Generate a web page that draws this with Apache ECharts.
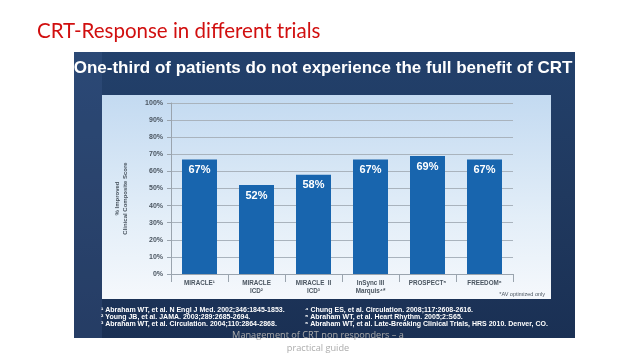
<!DOCTYPE html>
<html>
<head>
<meta charset="utf-8">
<script src="https://cdn.jsdelivr.net/npm/echarts@6/dist/echarts.min.js"></script>
<style>
html,body{margin:0;padding:0;background:#fff;}
#c{width:638px;height:359px;}
</style>
</head>
<body>
<div id="c"></div>
<script>
var categories = ['MIRACLE¹', 'MIRACLE\nICD²', 'MIRACLE  II\nICD³', 'InSync III\nMarquis⁴*', 'PROSPECT⁵', 'FREEDOM⁶'];
var values = [67, 52, 58, 67, 69, 67];
var yTicks = { min: 0, max: 100, step: 10, suffix: '%' };
var slideTitle = 'CRT-Response in different trials';
var boxTitle = 'One-third of patients do not experience the full benefit of CRT';
var yName = '% Improved\nClinical Composite Score';
var note = '*AV optimized only';
var refsLeft = ['¹ Abraham WT, et al. N Engl J Med. 2002;346:1845-1853.', '² Young JB, et al. JAMA. 2003;289:2685-2694.', '³ Abraham WT, et al. Circulation. 2004;110:2864-2868.'];
var refsRight = ['⁴ Chung ES, et al. Circulation. 2008;117:2608-2616.', '⁵ Abraham WT, et al. Heart Rhythm. 2005;2:S65.', '⁶ Abraham WT, et al. Late-Breaking Clinical Trials, HRS 2010. Denver, CO.'];
var footer = 'Management of CRT non responders – a\npractical guide';

var chart = echarts.init(document.getElementById('c'), null, {renderer: 'canvas'});
var refStyle = {fill: '#ffffff', font: 'bold 7px "Liberation Sans", Arial, sans-serif'};
var graphics = [
  {type: 'text', left: 37, top: 21, z: 10, style: {text: slideTitle, fill: '#d10f0f', font: '20.5px Lato, "Open Sans", sans-serif'}},
  {type: 'rect', shape: {x: 74, y: 52, width: 501, height: 286}, z: -20,
    style: {fill: new echarts.graphic.LinearGradient(0, 0, 0, 1, [{offset: 0, color: '#22406b'}, {offset: 0.5, color: '#20395f'}, {offset: 1, color: '#1a3054'}])}},
  {type: 'rect', shape: {x: 74, y: 52, width: 28, height: 286}, z: -19, style: {fill: 'rgba(70,100,150,0.25)'}},
  {type: 'text', x: 323, y: 68, z: 10, style: {text: boxTitle, fill: '#ffffff', font: 'bold 17px "Liberation Sans", Arial, sans-serif', textAlign: 'center', textVerticalAlign: 'middle'}},
  {type: 'rect', shape: {x: 102, y: 95, width: 449, height: 204}, z: -18,
    style: {fill: new echarts.graphic.LinearGradient(0, 0, 0, 1, [{offset: 0, color: '#c3daf1'}, {offset: 0.6, color: '#e3eef8'}, {offset: 1, color: '#f5f8fc'}])}},
  {type: 'text', x: 545, y: 294, z: 10, style: {text: note, fill: '#4a5560', font: '5.5px "Liberation Sans", Arial, sans-serif', textAlign: 'right', textVerticalAlign: 'middle'}},
  {type: 'text', x: 318, y: 342, z: 100, style: {text: footer, fill: '#ababab', font: '9.2px "Open Sans", sans-serif', textAlign: 'center', textVerticalAlign: 'middle', lineHeight: 13}}
];
refsLeft.forEach(function (t, i) {
  graphics.push({type: 'text', x: 101, y: 310 + i * 7, z: 10, style: Object.assign({text: t, textVerticalAlign: 'middle'}, refStyle)});
});
refsRight.forEach(function (t, i) {
  graphics.push({type: 'text', x: 305, y: 310 + i * 7, z: 10, style: Object.assign({text: t, textVerticalAlign: 'middle'}, refStyle)});
});

chart.setOption({
  animation: false,
  backgroundColor: '#ffffff',
  graphic: graphics,
  grid: {left: 171, right: 125, top: 103, bottom: 85, containLabel: false},
  xAxis: {
    type: 'category',
    data: categories,
    axisLine: {show: true, lineStyle: {color: '#9aa4ae', width: 1}},
    axisTick: {show: true, length: 8, lineStyle: {color: '#9aa4ae'}},
    axisLabel: {color: '#4a5560', fontSize: 6.3, fontWeight: 'bold', fontFamily: '"Liberation Sans", Arial, sans-serif', margin: 6, lineHeight: 7.5, interval: 0}
  },
  yAxis: {
    type: 'value',
    min: yTicks.min, max: yTicks.max, interval: yTicks.step,
    name: yName,
    nameLocation: 'middle',
    nameRotate: 90,
    nameGap: 42,
    nameTextStyle: {color: '#4a5560', fontSize: 6, fontWeight: 'bold', fontFamily: '"Liberation Sans", Arial, sans-serif', lineHeight: 8, padding: [0, 0, 0, -20]},
    axisLine: {show: true, lineStyle: {color: '#9aa4ae', width: 1}},
    axisTick: {show: true, length: 4, lineStyle: {color: '#9aa4ae'}},
    axisLabel: {formatter: '{value}' + yTicks.suffix, color: '#4a5560', fontSize: 7, fontWeight: 'bold', fontFamily: '"Liberation Sans", Arial, sans-serif', margin: 8},
    splitLine: {show: true, lineStyle: {color: '#a9b3bd', width: 1}}
  },
  series: [{
    type: 'bar',
    data: values,
    barWidth: 35,
    itemStyle: {color: '#1865ae'},
    label: {show: true, position: 'insideTop', distance: 5, formatter: '{c}%', color: '#ffffff', fontSize: 11, fontWeight: 'bold', fontFamily: '"Liberation Sans", Arial, sans-serif'}
  }]
});
</script>
</body>
</html>
